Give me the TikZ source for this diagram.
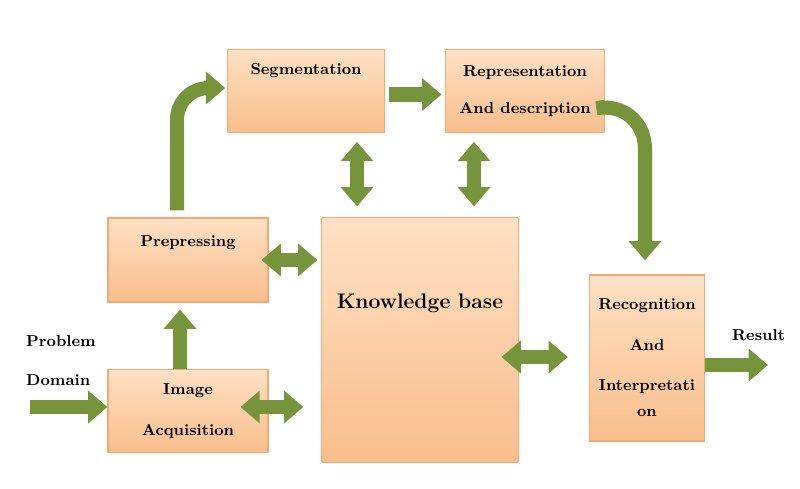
\documentclass[tikz,border=0pt]{standalone}
\usetikzlibrary{arrows.meta}
\definecolor{boxtop}{RGB}{253,224,196}
\definecolor{boxbot}{RGB}{249,190,140}
\definecolor{boxline}{RGB}{242,170,115}
\definecolor{arr}{RGB}{118,148,60}
\begin{document}
\begin{tikzpicture}[x=0.02cm,y=-0.02cm,
  box/.style={draw=boxline,line width=0.6pt,top color=boxtop,bottom color=boxbot,font=\small\bfseries,align=center,inner sep=0pt},
  fa/.style={arr,line width=8pt,-{Triangle[width=18pt,length=11pt]}},
  fd/.style={arr,line width=8pt,{Triangle[width=18pt,length=11pt]}-{Triangle[width=18pt,length=11pt]}},
  lab/.style={font=\small\bfseries,anchor=west}]
\useasboundingbox (0,0) rectangle (800,489);
\node[box,minimum width=157*0.02cm,minimum height=83*0.02cm] (seg) at (306,91) {Segmentation\\[14pt]};
\node[box,minimum width=159*0.02cm,minimum height=83*0.02cm] (rep) at (525,91) {Representation\\[10pt]And description};
\node[box,minimum width=160*0.02cm,minimum height=84*0.02cm] (pre) at (188,260) {Prepressing\\[10pt]};
\node[box,minimum width=197*0.02cm,minimum height=245*0.02cm,font=\large\bfseries] (kb) at (420,340) {Knowledge base\\[30pt]};
\node[box,minimum width=160*0.02cm,minimum height=83*0.02cm] (img) at (188,411) {Image\\[12pt]Acquisition};
\node[box,minimum width=115*0.02cm,minimum height=166*0.02cm] (rec) at (647,358) {Recognition\\[12pt]And\\[12pt]Interpretati\\[4pt]on};
\node[lab] (pd1) at (20,341) {Problem};
\node[lab] (pd2) at (20,380) {Domain};
\node[lab] (res) at (726,335) {Result};
\coordinate (pdstart) at (30,407);
\coordinate (resend) at (768,365);
\draw[fa] (pdstart) -- (img.west|-pdstart);
\draw[fa] (img.north-|180,0) -- ([yshift=-4pt]pre.south-|180,0);
\draw[fd] ([xshift=-4pt]pre.east) -- ([xshift=-2pt]kb.west|-pre.east);
\draw[fd] ([xshift=-16pt]img.east|-0,407) -- ([xshift=-10pt]kb.west|-0,407);
\draw[fd] ([yshift=-5pt]seg.south-|357,0) -- ([yshift=6pt]kb.north-|357,0);
\draw[fd] ([yshift=-5pt]rep.south-|474,0) -- ([yshift=6pt]kb.north-|474,0);
\draw[fa] ([xshift=2pt,yshift=-2pt]seg.east) -- ([xshift=-2pt,yshift=-2pt]rep.west);
\draw[fd] ([xshift=-10pt]kb.east|-0,357) -- ([xshift=-12pt]rec.west|-0,357);
\draw[fa] (rec.east|-0,365) -- (resend);
\draw[fa,rounded corners=28pt] ([yshift=-9pt]rep.east) -- (645,100) -- ([yshift=8pt]rec.north-|645,0);
\draw[fa,rounded corners=18pt] ([yshift=4pt]pre.north-|177,0) -- (177,88) -- ([xshift=-1pt]seg.west|-0,88);
\end{tikzpicture}
\end{document}
